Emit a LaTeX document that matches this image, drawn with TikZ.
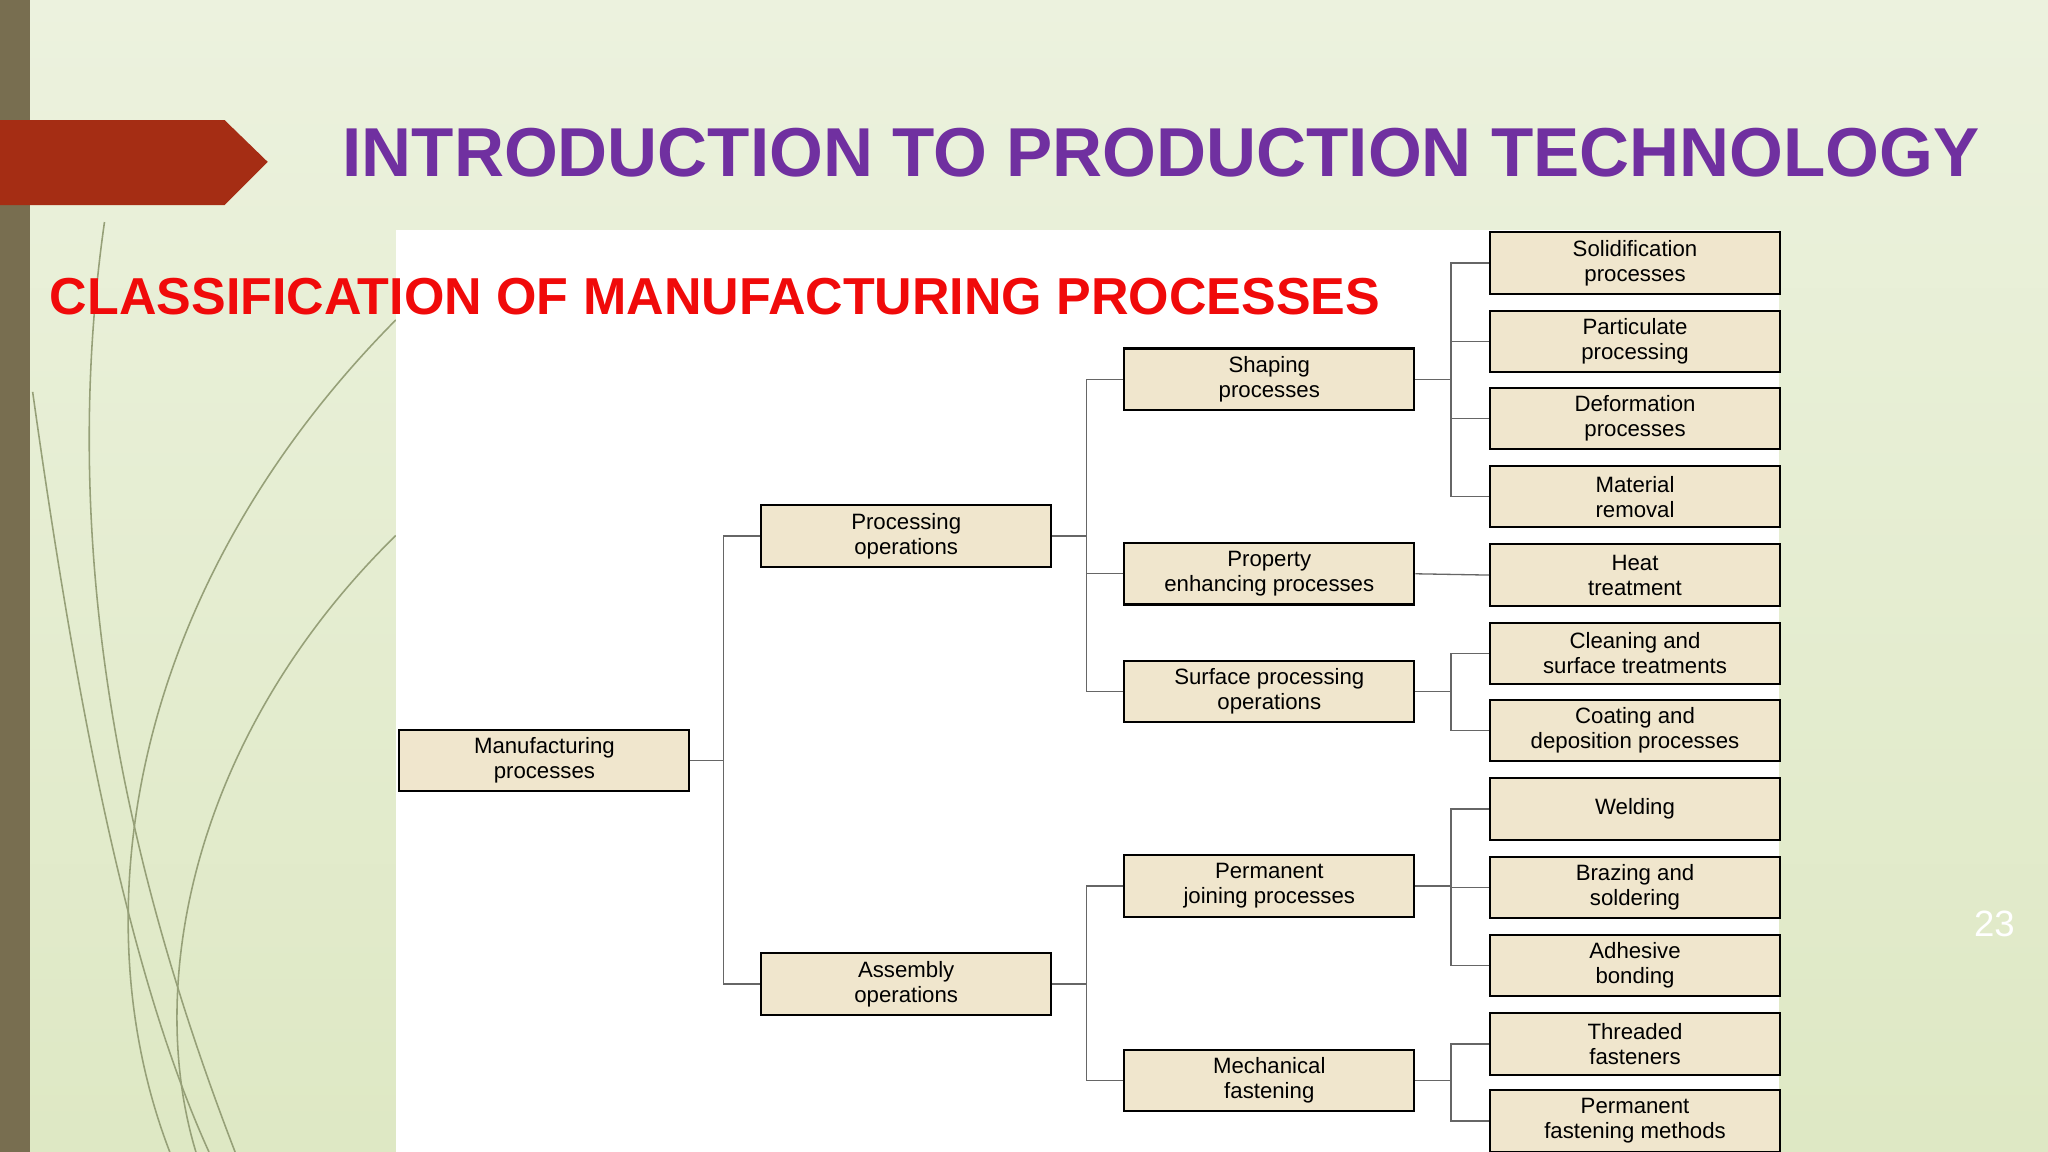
\documentclass[tikz,border=0pt]{standalone}
\usepackage{fontspec}
\setmainfont{Liberation Sans}
\definecolor{beige}{RGB}{240,230,205}
\definecolor{bgtop}{RGB}{236,242,222}
\definecolor{bgbot}{RGB}{222,232,196}
\definecolor{olive}{RGB}{120,110,80}
\definecolor{curve}{RGB}{150,160,120}
\definecolor{arrowred}{RGB}{165,45,20}
\definecolor{ttl}{RGB}{112,48,160}
\definecolor{subred}{RGB}{240,10,10}
\begin{document}
\begin{tikzpicture}[x=1pt,y=-1pt,
  bx/.style={draw=black,line width=1.6pt,fill=beige,minimum width=222pt,minimum height=47pt,align=center,font=\fontsize{17}{19}\selectfont,inner sep=1pt,anchor=north west},
  ln/.style={draw=gray!80!black,line width=1pt}]
\useasboundingbox (0,0) rectangle (1568,882);
\shade[top color=bgtop,bottom color=bgbot] (0,0) rectangle (1568,882);
\fill[olive] (0,0) rectangle (23,882);
\begin{scope}[draw=curve,line width=1.2pt]
\draw (80,170) .. controls (40,450) and (110,700) .. (180,882);
\draw (303,245) .. controls (100,450) and (60,700) .. (130,882);
\draw (303,410) .. controls (150,560) and (110,750) .. (150,882);
\draw (25,300) .. controls (60,550) and (100,750) .. (160,882);
\end{scope}
\fill[arrowred] (0,92) -- (172,92) -- (205,124) -- (172,157) -- (0,157) -- cycle;
\node[font=\bfseries\fontsize{53}{53}\selectfont,text=ttl] (title) at (889,117) {INTRODUCTION TO PRODUCTION TECHNOLOGY};
\fill[white] (303,176) rectangle (1362,882);
\node[font=\bfseries\fontsize{39.8}{40}\selectfont,text=subred,anchor=west,inner sep=0] (sub) at (38,227) {CLASSIFICATION OF MANUFACTURING PROCESSES};
\node[text=white,font=\fontsize{28}{28}\selectfont] (pg) at (1527,707) {23};
\node[bx] (mp) at (305,558) {Manufacturing\\processes};
\node[bx] (po) at (582,386) {Processing\\operations};
\node[bx] (ao) at (582,729) {Assembly\\operations};
\node[bx] (sp) at (860,266) {Shaping\\processes};
\node[bx] (pe) at (860,415) {Property\\enhancing processes};
\node[bx] (su) at (860,505) {Surface processing\\operations};
\node[bx] (pj) at (860,654) {Permanent\\joining processes};
\node[bx] (mf) at (860,803) {Mechanical\\fastening};
\foreach \n/\t/\y in {a/Solidification\\processes/177,b/Particulate\\processing/237,c/Deformation\\processes/296,d/Material\\removal/356,e/Heat\\treatment/416,f/Cleaning and\\surface treatments/476,g/Coating and\\deposition processes/535,h/Welding/595,i/Brazing and\\soldering/655,j/Adhesive\\bonding/715,k/Threaded\\fasteners/775,l/Permanent\\fastening methods/834}
  \node[bx] (\n) at (1140,\y) {\t};
% level 1
\draw[ln] (mp.east) -- (mp.east -| 554,0);
\draw[ln] (po.west) -- (po.west -| 554,0) -- (ao.west -| 554,0) -- (ao.west);
% level 2
\draw[ln] (po.east) -- (po.east -| 832,0);
\draw[ln] (sp.west) -- (sp.west -| 832,0) -- (su.west -| 832,0) -- (su.west);
\draw[ln] (pe.west) -- (pe.west -| 832,0);
\draw[ln] (ao.east) -- (ao.east -| 832,0);
\draw[ln] (pj.west) -- (pj.west -| 832,0) -- (mf.west -| 832,0) -- (mf.west);
% level 3
\draw[ln] (sp.east) -- (sp.east -| 1111,0);
\draw[ln] (a.west) -- (a.west -| 1111,0) -- (d.west -| 1111,0) -- (d.west);
\draw[ln] (b.west) -- (b.west -| 1111,0);
\draw[ln] (c.west) -- (c.west -| 1111,0);
\draw[ln] (pe.east) -- (e.west);
\draw[ln] (su.east) -- (su.east -| 1111,0);
\draw[ln] (f.west) -- (f.west -| 1111,0) -- (g.west -| 1111,0) -- (g.west);
\draw[ln] (pj.east) -- (pj.east -| 1111,0);
\draw[ln] (h.west) -- (h.west -| 1111,0) -- (j.west -| 1111,0) -- (j.west);
\draw[ln] (i.west) -- (i.west -| 1111,0);
\draw[ln] (mf.east) -- (mf.east -| 1111,0);
\draw[ln] (k.west) -- (k.west -| 1111,0) -- (l.west -| 1111,0) -- (l.west);
\end{tikzpicture}
\end{document}
